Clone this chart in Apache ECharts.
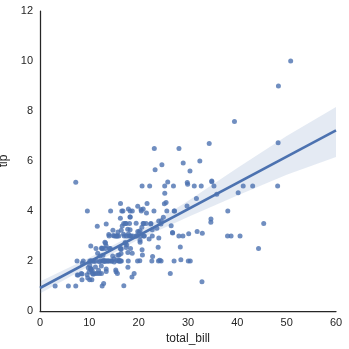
<!DOCTYPE html>
<html>
<head>
<meta charset="utf-8">
<script src="https://cdn.jsdelivr.net/npm/echarts@6/dist/echarts.min.js"></script>
<style>
  html, body { margin: 0; padding: 0; background: #fff; }
  #chart { width: 349px; height: 349px; }
</style>
</head>
<body>
<div id="chart"></div>
<script>
// Restaurant tips: bill total vs tip, with a least-squares fit and 95% band
const totalBill = [
  16.99,10.34,21.01,23.68,24.59,25.29,8.77,26.88,15.04,14.78,10.27,35.26,15.42,18.43,14.83,21.58,
  10.33,16.29,16.97,20.65,17.92,20.29,15.77,39.42,19.82,17.81,13.37,12.69,21.7,19.65,9.55,18.35,
  15.06,20.69,17.78,24.06,16.31,16.93,18.69,31.27,16.04,17.46,13.94,9.68,30.4,18.29,22.23,32.4,
  28.55,18.04,12.54,10.29,34.81,9.94,25.56,19.49,38.01,26.41,11.24,48.27,20.29,13.81,11.02,18.29,
  17.59,20.08,16.45,3.07,20.23,15.01,12.02,17.07,26.86,25.28,14.73,10.51,17.92,27.2,22.76,17.29,
  19.44,16.66,10.07,32.68,15.98,34.83,13.03,18.28,24.71,21.16,28.97,22.49,5.75,16.32,22.75,40.17,
  27.28,12.03,21.01,12.46,11.35,15.38,44.3,22.42,20.92,15.36,20.49,25.21,18.24,14.31,14.0,7.25,
  38.07,23.95,25.71,17.31,29.93,10.65,12.43,24.08,11.69,13.42,14.26,15.95,12.48,29.8,8.52,14.52,
  11.38,22.82,19.08,20.27,11.17,12.26,18.26,8.51,10.33,14.15,16.0,13.16,17.47,34.3,41.19,27.05,
  16.43,8.35,18.64,11.87,9.78,7.51,14.07,13.13,17.26,24.55,19.77,29.85,48.17,25.0,13.39,16.49,
  21.5,12.66,16.21,13.81,17.51,24.52,20.76,31.71,10.59,10.63,50.81,15.81,7.25,31.85,16.82,32.9,
  17.89,14.48,9.6,34.63,34.65,23.33,45.35,23.17,40.55,20.69,20.9,30.46,18.15,23.1,15.69,19.81,
  28.44,15.48,16.58,7.56,10.34,43.11,13.0,13.51,18.71,12.74,13.0,16.4,20.53,16.47,26.59,38.73,
  24.27,12.76,30.06,25.89,48.33,13.27,28.17,12.9,28.15,11.59,7.74,30.14,12.16,13.42,8.58,15.98,
  13.42,16.27,10.09,20.45,13.28,22.12,24.01,15.69,11.61,10.77,15.53,10.07,12.6,32.83,35.83,29.03,
  27.18,22.67,17.82,18.78
];
const tip = [
  1.01,1.66,3.5,3.31,3.61,4.71,2.0,3.12,1.96,3.23,1.71,5.0,1.57,3.0,3.02,3.92,
  1.67,3.71,3.5,3.35,4.08,2.75,2.23,7.58,3.18,2.34,2.0,2.0,4.3,3.0,1.45,2.5,
  3.0,2.45,3.27,3.6,2.0,3.07,2.31,5.0,2.24,2.54,3.06,1.32,5.6,3.0,5.0,6.0,
  2.05,3.0,2.5,2.6,5.2,1.56,4.34,3.51,3.0,1.5,1.76,6.73,3.21,2.0,1.98,3.76,
  2.64,3.15,2.47,1.0,2.01,2.09,1.97,3.0,3.14,5.0,2.2,1.25,3.08,4.0,3.0,2.71,
  3.0,3.4,1.83,5.0,2.03,5.17,2.0,4.0,5.85,3.0,3.0,3.5,1.0,4.3,3.25,4.73,
  4.0,1.5,3.0,1.5,2.5,3.0,2.5,3.48,4.08,1.64,4.06,4.29,3.76,4.0,3.0,1.0,
  4.0,2.55,4.0,3.5,5.07,1.5,1.8,2.92,2.31,1.68,2.5,2.0,2.52,4.2,1.48,2.0,
  2.0,2.18,1.5,2.83,1.5,2.0,3.25,1.25,2.0,2.0,2.0,2.75,3.5,6.7,5.0,5.0,
  2.3,1.5,1.36,1.63,1.73,2.0,2.5,2.0,2.74,2.0,2.0,5.14,5.0,3.75,2.61,2.0,
  3.5,2.5,2.0,2.0,3.0,3.48,2.24,4.5,1.61,2.0,10.0,3.16,5.15,3.18,4.0,3.11,
  2.0,2.0,4.0,3.55,3.68,5.65,3.5,6.5,3.0,5.0,3.5,2.0,3.5,4.0,1.5,4.19,
  2.56,2.02,4.0,1.44,2.0,5.0,2.0,2.0,4.0,2.01,2.0,2.5,4.0,3.23,3.41,3.0,
  2.03,2.23,2.0,5.16,9.0,2.5,6.5,1.1,3.0,1.5,1.44,3.09,2.2,3.48,1.92,3.0,
  1.58,2.5,2.0,3.0,2.72,2.88,2.0,3.0,3.39,1.47,3.0,1.25,1.0,1.17,4.67,5.92,
  2.0,2.0,1.75,3.0
];
const xTicks = [0, 10, 20, 30, 40, 50, 60];
const yTicks = [0, 2, 4, 6, 8, 10, 12];

// 95% confidence band of the fit, lower and upper edge at each x tick
const bandX = [0, 10, 20, 30, 40, 50, 60];
const bandLower = [0.70, 1.80, 2.86, 3.76, 4.62, 5.45, 6.16];
const bandUpper = [1.18, 2.13, 3.17, 4.40, 5.72, 7.00, 8.16];

const BLUE = '#4c72b0';
const INK = '#262626';

// Ordinary least squares fit of tip on total_bill
const n = totalBill.length;
const xMean = totalBill.reduce((a, b) => a + b, 0) / n;
const yMean = tip.reduce((a, b) => a + b, 0) / n;
let sxx = 0, sxy = 0;
for (let i = 0; i < n; i++) {
  const u = totalBill[i] - xMean;
  sxx += u * u;
  sxy += u * (tip[i] - yMean);
}
const slope = sxy / sxx;
const intercept = yMean - slope * xMean;
const xLo = xTicks[0], xHi = xTicks[xTicks.length - 1];
const fitLine = [[xLo, intercept + slope * xLo], [xHi, intercept + slope * xHi]];

const chart = echarts.init(document.getElementById('chart'), null, { renderer: 'canvas' });
const font = 'Liberation Sans, Arial, sans-serif';

chart.setOption({
  backgroundColor: '#ffffff',
  animation: false,
  grid: { left: 40, right: 13, top: 11, bottom: 38, containLabel: false, outerBoundsMode: 'none' },
  xAxis: {
    type: 'value',
    min: xLo, max: xHi, interval: 10,
    name: 'total_bill', nameLocation: 'middle', nameGap: 22,
    nameTextStyle: { color: INK, fontSize: 12, fontFamily: font },
    axisLine: { lineStyle: { color: INK, width: 1.25 } },
    axisTick: { show: false },
    splitLine: { show: false },
    axisLabel: { color: INK, fontSize: 11, fontFamily: font, margin: 6 }
  },
  yAxis: {
    type: 'value',
    min: yTicks[0], max: yTicks[yTicks.length - 1], interval: 2,
    name: 'tip', nameLocation: 'middle', nameGap: 27, nameRotate: 90,
    nameTextStyle: { color: INK, fontSize: 12, fontFamily: font },
    axisLine: { show: true, lineStyle: { color: INK, width: 1.25 } },
    axisTick: { show: false },
    splitLine: { show: false },
    axisLabel: { color: INK, fontSize: 11, fontFamily: font, margin: 7 }
  },
  series: [
    {
      // confidence band: one polygon mapped through the axis scales
      type: 'custom',
      data: [0],
      silent: true,
      z: 1,
      renderItem: function (params, api) {
        const upper = bandX.map((x, i) => api.coord([x, bandUpper[i]]));
        const lower = bandX.map((x, i) => api.coord([x, bandLower[i]])).reverse();
        return {
          type: 'polygon',
          shape: { points: upper.concat(lower) },
          style: { fill: BLUE, opacity: 0.15 }
        };
      }
    },
    {
      type: 'scatter',
      data: totalBill.map((x, i) => [x, tip[i]]),
      symbolSize: 5,
      itemStyle: { color: BLUE, opacity: 0.8 },
      z: 2
    },
    {
      type: 'line', data: fitLine, symbol: 'none',
      lineStyle: { color: BLUE, width: 2.6 }, z: 3
    }
  ]
});
</script>
</body>
</html>
